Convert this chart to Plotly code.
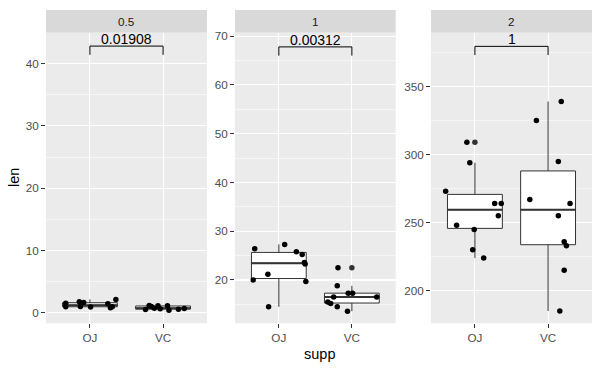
import numpy as np
import plotly.graph_objects as go

# ---------------- data ----------------
doses = ["0.5", "1", "2"]
supp_labels = ["OJ", "VC"]

p1_oj_len = [1.52, 0.97, 1.76, 1.00, 1.65, 0.94, 1.45, 0.82, 0.97, 2.15]
p1_oj_jit = [-0.33, -0.33, -0.145, -0.13, -0.085, 0.01, 0.245, 0.28, 0.305, 0.355]
p1_vc_len = [0.52, 1.15, 1.00, 0.73, 1.12, 0.64, 1.12, 0.42, 0.58, 0.70]
p1_vc_jit = [-0.24, -0.19, -0.16, -0.12, -0.07, -0.04, 0.06, 0.08, 0.21, 0.29]

p2_oj_len = [26.4, 27.3, 25.8, 25.2, 23.6, 23.3, 21.2, 20.0, 19.7, 14.5]
p2_oj_jit = [-0.33, 0.08, 0.24, 0.32, 0.35, 0.36, -0.15, -0.35, 0.37, -0.14]
p2_vc_len = [22.5, 18.8, 17.3, 17.3, 16.5, 16.5, 15.5, 15.2, 14.5, 13.6]
p2_vc_jit = [-0.19, -0.20, -0.05, 0.01, 0.34, -0.25, -0.33, -0.29, -0.20, -0.06]

p3_oj_len = [273, 248, 309, 294, 264, 264, 255, 245, 230, 224]
p3_oj_jit = [-0.40, -0.25, -0.11, -0.07, 0.27, 0.36, 0.32, -0.01, -0.03, 0.12]
p3_vc_len = [339, 325, 295, 267, 264, 255, 236, 233, 215, 185]
p3_vc_jit = [0.18, -0.16, 0.14, -0.25, 0.30, 0.14, 0.22, 0.25, 0.22, 0.16]

p_labels = ["0.01908", "0.00312", "1"]
bracket_y = [42.8, 67.8, 379.6]

y_ranges = [[-1.70, 44.94], [11.1, 70.7], [175.9, 389.6]]
y_dticks = [10, 10, 50]

panels = [
    [(p1_oj_len, p1_oj_jit), (p1_vc_len, p1_vc_jit)],
    [(p2_oj_len, p2_oj_jit), (p2_vc_len, p2_vc_jit)],
    [(p3_oj_len, p3_oj_jit), (p3_vc_len, p3_vc_jit)],
]

# ---------------- layout geometry ----------------
W, H = 600, 369
x_domains = [[46 / W, 207 / W], [235 / W, 395.7 / W], [431 / W, 592 / W]]
y_dom = [1 - 323 / H, 1 - 30 / H]
strip_y = [1 - 30 / H, 1 - 7 / H]

FONT = "Liberation Sans, Arial, sans-serif"
BOXCOL = "#333333"
BOXW = 0.75

fig = go.Figure()
layout_axes = {}

for i, panel in enumerate(panels):
    ax = "" if i == 0 else str(i + 1)
    xref, yref = "x" + ax, "y" + ax
    for j, (vals, jit) in enumerate(panel):
        xc = j + 1
        arr = np.array(vals, dtype=float)
        q1, med, q3 = np.percentile(arr, [25, 50, 75])
        iqr = q3 - q1
        lo_lim, hi_lim = q1 - 1.5 * iqr, q3 + 1.5 * iqr
        inside = arr[(arr >= lo_lim) & (arr <= hi_lim)]
        outl = arr[(arr < lo_lim) | (arr > hi_lim)]
        fig.add_trace(go.Box(
            x=[xc], q1=[q1], median=[med], q3=[q3],
            lowerfence=[inside.min()], upperfence=[inside.max()],
            width=BOXW, whiskerwidth=0, boxpoints=False,
            fillcolor="white", line=dict(color=BOXCOL, width=1),
            xaxis=xref, yaxis=yref, showlegend=False, hoverinfo="skip",
        ))
        # thicker median line
        fig.add_trace(go.Scatter(
            x=[xc - BOXW / 2, xc + BOXW / 2], y=[med, med], mode="lines",
            line=dict(color=BOXCOL, width=2), xaxis=xref, yaxis=yref,
            showlegend=False, hoverinfo="skip",
        ))
        if len(outl):
            fig.add_trace(go.Scatter(
                x=[xc] * len(outl), y=list(outl), mode="markers",
                marker=dict(color=BOXCOL, size=5.5), xaxis=xref, yaxis=yref,
                showlegend=False,
            ))
        fig.add_trace(go.Scatter(
            x=[xc + d for d in jit], y=vals, mode="markers",
            marker=dict(color="black", size=5.5), xaxis=xref, yaxis=yref,
            showlegend=False,
        ))
    # significance bracket
    span = y_ranges[i][1] - y_ranges[i][0]
    tip = bracket_y[i] - 0.03 * span
    fig.add_trace(go.Scatter(
        x=[1, 1, 2, 2], y=[tip, bracket_y[i], bracket_y[i], tip], mode="lines",
        line=dict(color="black", width=1), xaxis=xref, yaxis=yref,
        showlegend=False, hoverinfo="skip",
    ))
    fig.add_annotation(
        x=1.5, y=bracket_y[i], xref=xref, yref=yref, text=p_labels[i],
        showarrow=False, xanchor="center", yanchor="bottom", yshift=-3,
        font=dict(family=FONT, size=14, color="black"),
    )
    # strip
    fig.add_shape(type="rect", xref="paper", yref="paper",
                  x0=x_domains[i][0], x1=x_domains[i][1],
                  y0=strip_y[0], y1=strip_y[1],
                  fillcolor="#D9D9D9", line=dict(width=0), layer="below")
    fig.add_annotation(
        x=(x_domains[i][0] + x_domains[i][1]) / 2, y=(strip_y[0] + strip_y[1]) / 2,
        xref="paper", yref="paper", text=doses[i], showarrow=False,
        xanchor="center", yanchor="middle",
        font=dict(family=FONT, size=11.7, color="#1A1A1A"),
    )

    layout_axes["xaxis" + ax] = dict(
        domain=x_domains[i], range=[0.4, 2.6], tickvals=[1, 2], ticktext=supp_labels,
        showgrid=True, gridcolor="white", gridwidth=1.07, zeroline=False,
        ticks="outside", ticklen=4, tickcolor=BOXCOL, tickwidth=1,
        tickfont=dict(family=FONT, size=11.7, color="#4D4D4D"),
        anchor=yref, fixedrange=True, showline=False,
    )
    layout_axes["yaxis" + ax] = dict(
        domain=y_dom, range=y_ranges[i], dtick=y_dticks[i], tick0=0,
        showgrid=True, gridcolor="white", gridwidth=1.07, zeroline=False,
        minor=dict(dtick=y_dticks[i] / 2, tick0=0, showgrid=True,
                   gridcolor="white", gridwidth=0.53),
        ticks="outside", ticklen=4, tickcolor=BOXCOL, tickwidth=1,
        tickfont=dict(family=FONT, size=11.7, color="#4D4D4D"),
        anchor=xref, fixedrange=True, showline=False,
    )
    # panel background
    fig.add_shape(type="rect", xref="paper", yref="paper",
                  x0=x_domains[i][0], x1=x_domains[i][1], y0=y_dom[0], y1=y_dom[1],
                  fillcolor="#EBEBEB", line=dict(width=0), layer="below")

fig.add_annotation(x=319 / W, y=1 - 354 / H, xref="paper", yref="paper", text="supp",
                   showarrow=False, xanchor="center", yanchor="middle",
                   font=dict(family=FONT, size=14.5, color="black"))
fig.add_annotation(x=14 / W, y=1 - 176.5 / H, xref="paper", yref="paper", text="len",
                   showarrow=False, textangle=-90, xanchor="center", yanchor="middle",
                   font=dict(family=FONT, size=14.5, color="black"))

fig.update_layout(
    width=W, height=H, margin=dict(l=0, r=0, t=0, b=0),
    paper_bgcolor="white", plot_bgcolor="rgba(0,0,0,0)",
    showlegend=False, hovermode=False, **layout_axes,
)

fig.write_html("out.html", config={"displayModeBar": False, "staticPlot": True},
               post_script="document.body.style.margin='0px';document.body.style.overflow='hidden';")
